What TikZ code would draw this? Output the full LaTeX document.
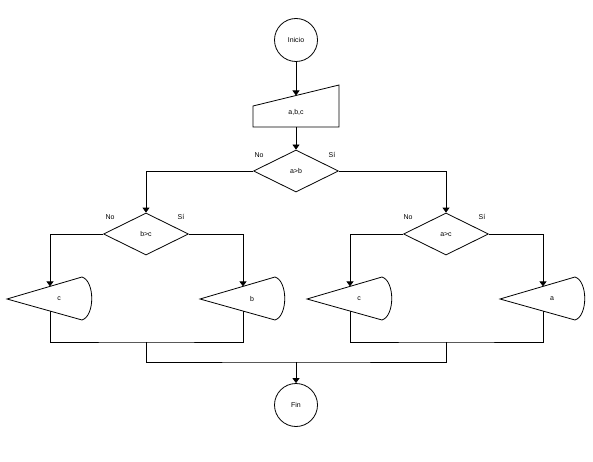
\documentclass[tikz,border=0pt]{standalone}
\usepackage{fontspec}
\setmainfont{Liberation Sans}
\usetikzlibrary{shapes.geometric,arrows.meta}
\newcommand\dispshape[3]{%
  \draw (#2-75,299) -- (#2,277) .. controls (#2+13,281) and (#2+13,316) .. (#2,320) -- cycle;
  \node (#1) at (#2-23,299) {#3};
  \coordinate (#1T) at (#2-32,286.4);
  \coordinate (#1B) at (#2-32,311.3);
}
\begin{document}
\begin{tikzpicture}[x=1pt,y=-1pt,
  line width=0.8pt,
  every node/.style={font=\fontsize{7}{8}\selectfont},
  term/.style={circle,draw,minimum size=43pt,inner sep=0pt},
  dec/.style={diamond,draw,minimum width=85pt,minimum height=42pt,inner sep=0pt},
  arr/.style={-{Triangle[length=5pt,width=7pt]}}]
\useasboundingbox (0,0) rectangle (593,462);
% start
\node[term] (ini) at (296,40) {Inicio};
\draw (253,106) -- (339,85) -- (339,127) -- (253,127) -- cycle;
\node (inp) at (296,112) {a,b,c};
\coordinate (inpT) at (296,95.5);
\coordinate (inpB) at (296,127);
\draw[arr] (ini) -- (inpT);
% decisions
\node[dec] (d1) at (296,171) {a>b};
\draw[arr] (inpB) -- (d1.north);
\node (no1) at (259,155) {No};
\node (si1) at (332,155) {Sí};
\node[dec] (d2) at (146,234) {b>c};
\node[dec] (d3) at (446,234) {a>c};
\node (no2) at (110,217) {No};
\node (si2) at (181,217) {Sí};
\node (no3) at (408,217) {No};
\node (si3) at (482,217) {Sí};
\draw[arr] (d1.west) -| (d2.north);
\draw[arr] (d1.east) -| (d3.north);
% displays
\dispshape{o1}{82}{c}
\dispshape{o2}{275}{b}
\dispshape{o3}{382}{c}
\dispshape{o4}{575}{a}
\draw[arr] (d2.west) -| (o1T);
\draw[arr] (d2.east) -| (o2T);
\draw[arr] (d3.west) -| (o3T);
\draw[arr] (d3.east) -| (o4T);
% joins
\coordinate (j1) at (146,342);
\coordinate (j2) at (446,342);
\coordinate (m) at (296,362);
\draw (o1B) |- (j1) -| (o2B);
\draw (o3B) |- (j2) -| (o4B);
\draw (j1) |- (m) -| (j2);
\node[term] (fin) at (296,405) {Fin};
\draw[arr] (m) -- (fin);
\end{tikzpicture}
\end{document}
